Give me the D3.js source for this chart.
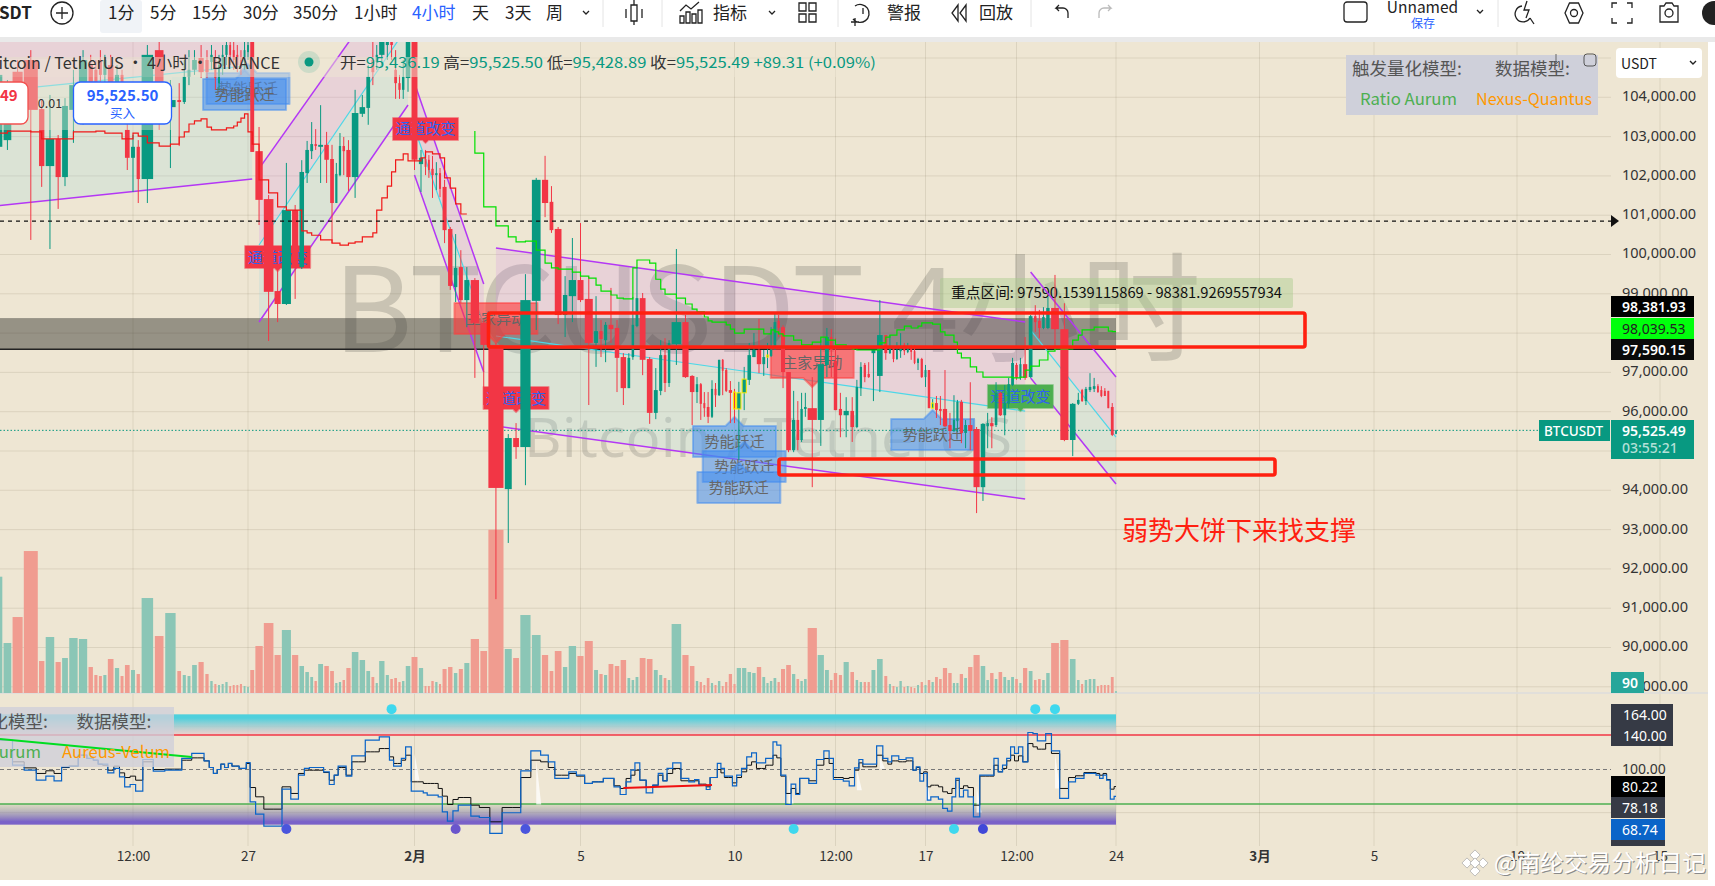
<!DOCTYPE html>
<html>
<head>
<meta charset="utf-8">
<style>
  html, body { margin: 0; padding: 0; background: #fff; overflow: hidden; }
  text { font-family: "Noto Sans CJK SC", "Noto Sans", sans-serif; }
</style>
<script src="https://cdn.jsdelivr.net/npm/d3@7"></script>
</head>
<body>
<svg id="chart" width="1715" height="886"></svg>
<script>
// BTCUSDT 4h bars. Bar widths follow volume.
var opens = [
  102740,102910,104650,104950,103700,102250,102940,101970,103680,104310,
  104820,104700,104950,104570,104820,104310,104570,103170,102460,102740,
  101920,105200,103750,103930,103880,104520,104700,105000,104950,104900,
  104950,104360,104800,105080,105330,105200,105080,104950,104900,105150,
  105410,102630,101410,99070,98740,101130,99680,102070,102630,102810,
  102740,102790,102430,101310,102020,102760,102660,101970,103580,103730,
  104950,104900,105080,105330,105510,104700,104360,104190,104490,105410,
  102300,102430,102410,102180,102020,102070,101720,100650,99170,99680,
  98840,99350,98260,97700,94030,95330,95100,98820,101900,101340,
  100650,98460,98940,99350,98870,97750,98050,97820,98210,98130,
  97390,96600,97390,98180,98890,97340,95970,96530,97440,96730,
  97720,98280,96910,96500,96700,96220,96120,95870,96580,96420,
  97320,97060,96550,96500,96070,96480,96810,97390,97570,97210,
  97390,97420,97640,98310,98150,97010,95020,95790,95280,96070,
  96090,95790,97190,97900,97290,96070,95910,96020,95610,96600,
  97190,96960,97490,96910,97950,97490,97620,97340,97540,97700,
  97520,97670,97540,97240,97340,96880,97060,96090,96220,96070,
  96070,95660,95510,95760,96250,95460,95660,95560,94080,95630,
  95710,95660,96480,95910,96200,96680,97190,96860,97210,96880,
  98430,98310,98130,98130,98640,98100,95280,96200,96550,96270,
  96550,96580,96650,96550,96530,96530,96120,95436.19
];
var closes = [
  104570,104190,104190,103680,102250,102940,101970,103780,104310,104950,
  104190,104310,104570,104950,104310,104570,104310,102460,102740,101920,
  105080,104360,103930,103880,104520,104700,104950,104640,104640,105080,
  104490,104820,105080,105330,105080,104950,104820,104750,105200,105330,
  102610,101390,99050,98740,101130,99680,102100,102660,102810,102760,
  102790,102410,101310,102050,102760,102630,101970,103600,103750,104520,
  104640,105080,105460,105510,105330,104360,104190,104520,105410,102410,
  102460,102230,102150,102020,102070,101670,100620,99200,99660,98840,
  99350,98260,97700,94060,95330,95100,98840,101900,101310,100620,
  98460,98970,99350,98840,97750,98050,97850,98210,98100,97370,
  96600,97370,98210,98890,97320,95970,96550,97440,96730,97750,
  98280,96880,96500,96700,96200,96090,95870,96580,96420,97320,
  97040,96530,96480,96070,96480,96830,97440,97570,97210,97390,
  97440,97570,98280,98130,97010,95020,95790,95280,96070,96120,
  95790,97210,97900,97570,96040,95910,96020,95610,96630,97140,
  96880,96880,97570,97950,97490,97620,97340,97570,97650,97540,
  97620,97520,97240,97340,96880,97060,96090,96220,96040,96020,
  95630,95510,95790,96250,95460,95660,95510,94080,95690,95710,
  95630,96480,95910,96220,96700,97240,96860,97210,96860,98430,
  98280,98130,98410,98640,98100,95280,96200,96300,96270,96580,
  96630,96650,96500,96400,96400,96090,95410,95525.49
];
var highs = [
  104950,104440,104950,105200,103930,104060,103040,103980,104700,105200,
  105080,104950,105200,105080,105080,104820,104700,103680,103040,102910,
  105330,105460,104440,104360,104950,105200,105200,105330,105200,105330,
  105200,105080,105330,105590,105590,105460,105330,105200,105460,105590,
  105460,103245,101515,99605,102330,101260,102400,102890,103370,103190,
  103800,103120,102790,102330,103090,102990,102910,104190,104060,104820,
  105460,105330,105710,105760,105710,105200,104570,104950,105590,105590,
  102660,102660,102530,102510,102350,102200,101900,100700,100520,100110,
  99680,99400,98310,97750,95430,95710,99500,101950,102510,101740,
  100700,99450,100420,100800,99430,98940,98330,98280,99150,98330,
  97490,97490,98920,99680,99020,97390,97110,97820,97870,97820,
  100140,98460,96930,96880,96730,96500,96500,96800,96730,97320,
  97340,97110,96780,96580,96760,97140,97750,98000,98360,97570,
  97750,98150,98510,98460,98200,97010,96530,96270,96480,96480,
  96880,97820,98130,98100,97870,96480,96370,96370,96810,97260,
  97240,97260,97570,98840,97950,97950,97650,97770,98000,97750,
  97750,97700,97700,97370,97370,97190,97060,96320,96400,96400,
  97060,95970,96420,96300,96300,95790,96750,95610,95710,95970,
  95860,96750,96500,96680,96860,97370,97240,97370,97900,98460,
  98710,98590,98660,98920,99480,98760,96220,96480,96580,96630,
  96980,96860,96700,96650,96600,96530,96220,95525.5
];
var lows = [
  101900,102660,103930,100370,101720,100140,101160,101740,102840,103300,
  103930,103930,104190,104310,103680,103680,104060,102150,101590,101310,
  101310,103170,102200,102760,103830,104310,104570,104490,104490,104700,
  104190,104190,104570,104820,104820,104700,104640,104570,104700,104950,
  102610,100750,97800,98280,98715,98870,99630,101820,102430,102660,
  101820,101820,100290,101310,101990,102020,101620,101440,103500,103300,
  104310,104700,104820,104950,104950,103960,103960,103960,104140,102150,
  101590,102020,101950,101440,101640,101460,100290,99100,98790,98760,
  98150,96860,96170,91230,92660,94800,94130,98080,100950,100550,
  98230,97900,98280,98790,96170,97140,97390,97260,97750,96500,
  96170,96600,97320,98150,96930,95690,95810,96420,96500,96630,
  97190,96860,95660,96220,95790,95870,95710,95840,96120,96400,
  96420,96500,95710,95710,94770,96040,96680,97390,96980,96910,
  97110,97390,97570,97900,96600,94970,94970,95020,95230,95870,
  94080,95130,96880,96880,96040,95350,95350,95230,95580,96400,
  96750,96860,96270,96500,97320,97470,97260,97320,97370,97440,
  97490,97320,97210,97060,96860,96630,96090,96090,95840,95660,
  95610,95070,95480,95480,95200,95070,95020,93420,93730,95070,
  95070,95610,95890,95400,96090,96650,96810,96810,96810,96860,
  98030,97870,98100,98100,97570,95250,94870,96170,96250,96170,
  96500,96500,96480,96370,96400,96090,95380,95428.89
];
var volumes = [
  349,150,228,426,96,168,93,105,165,162,
  78,54,51,54,102,75,51,84,69,57,
  285,171,240,66,54,51,84,93,57,36,
  27,24,27,33,21,24,24,27,21,18,
  69,141,210,114,189,114,81,63,48,36,
  87,81,66,30,33,39,75,123,99,66,
  48,30,96,54,42,45,33,36,81,108,
  75,21,21,36,33,27,72,78,60,72,
  90,162,126,490,132,105,234,174,114,66,
  126,78,141,111,156,69,57,54,87,81,
  99,45,39,48,105,102,69,54,45,39,
  207,114,81,36,33,24,45,30,24,36,
  21,33,57,27,75,75,63,60,78,48,
  30,36,45,33,72,84,57,42,36,42,
  195,114,69,39,60,54,93,63,39,33,
  33,33,69,102,51,27,21,18,36,18,
  21,18,15,24,33,24,39,33,48,42,
  75,60,30,30,57,45,78,114,81,39,
  60,42,63,48,39,48,42,30,75,66,
  39,42,39,60,150,159,102,39,27,39,
  42,42,21,24,24,24,48,6
];
// the stepped trend line over the candles, red until index 81 and green after
var trendLine = [
  102760,103090,103140,103140,103120,102940,102940,102940,102940,103120,
  103120,103120,103140,103140,103090,103090,103090,102940,102940,103090,
  103010,102840,102760,102810,102990,103120,103320,103400,103450,103240,
  103170,103170,103170,103170,103220,103220,103270,103370,103470,103580,
  103120,102810,101900,101570,101210,101130,101130,100600,100550,100490,
  100490,100370,100370,100290,100290,100240,100240,100290,100320,100450,
  100450,100550,101130,101440,101740,102100,102410,102410,102560,102380,
  102380,102460,102610,102610,102560,102560,102460,101950,101690,101290,
  101030,103140,102580,101210,100730,100450,100320,100340,100110,99780,
  99660,99630,99630,99550,99450,99400,99220,99070,99070,98970,
  98890,98870,98870,99660,99860,99860,99780,99370,99120,98990,
  98990,98890,98740,98610,98540,98540,98410,98310,98280,98280,
  98280,98280,98210,98100,98000,98000,98100,98100,98100,98100,
  97980,97980,98080,98030,97980,97930,97930,97820,97820,97700,
  97700,97770,97900,97820,97820,97700,97700,97650,97595,97570,
  97570,97570,97570,97570,97750,97900,97950,97950,98080,98080,
  98180,98180,98130,98130,98180,98260,98260,98260,98230,98230,
  98030,97950,97950,97770,97490,97370,97370,97140,97010,96880,
  96880,96880,96880,96880,96880,96880,96860,96860,96880,97060,
  97160,97160,97315,97315,97540,97595,97595,97820,97950,98080,
  98080,98080,98150,98150,98150,98150,98050,98039.53
];
var trendSplit = 81;

// oscillator in the lower pane
var oscBlue = [
  134,134,105,99.2,87.6,92.3,86.9,103.1,103.9,116.6,
  112.8,110.8,106.2,106.2,96.1,101.2,91.5,79.9,82.6,74.9,
  111.6,98.1,99.2,99.2,112.8,112.8,118.6,118.6,110,102.3,
  95.4,100,106.2,102.3,107,103.9,103.9,101.2,101.2,108.1,
  62.5,48.2,34.3,34.3,77.2,65.6,93.4,101.2,102.3,102.3,
  102.3,97.3,82.6,93.4,103.9,103.9,92.3,115.8,115.8,134,
  134,134,137.9,137.9,110.8,103.9,103.9,112.8,126.3,74.9,
  74.9,72.9,70.2,70.2,70.2,68.3,50.9,40.1,52.1,58.6,
  58.6,45.9,44.3,25.8,49.8,49.8,98.5,121.6,116.6,108.9,
  89.6,89.6,97.3,93.4,83.8,85.7,85.7,89.6,89.6,79.9,
  71,85.7,99.2,107.7,87.6,72.9,81.8,95.4,86.9,101.2,
  107.7,89.6,85.7,88.4,81.8,81.8,76.8,90.7,90.7,107,
  101.2,92.3,92.3,81.1,93.4,101.2,114.7,119.3,107.7,107.7,
  112.8,112.8,132.1,128.2,93.4,59.4,83,71,89.6,89.6,
  83.8,111.6,121.6,112.8,88.4,88.4,86.5,81.1,101.9,111.6,
  106.2,106.2,106.2,127.4,112.8,108.9,115.8,115.8,111.6,111.6,
  113.5,113.5,99.2,103.1,86.5,95.4,64.4,68.3,68.3,65.6,
  54.8,51.7,68.3,89.6,68.3,76,68.3,45.1,93.4,93.4,
  93.4,112.8,97.3,105,112.8,126.3,118.6,126.3,108.9,142.9,
  141.7,133.2,133.2,141.7,121.6,66.4,85.7,89.6,89.6,95.4,
  95.4,95.4,93.4,89.6,93.4,87.6,65.6,68.74
];
var oscBlack = [
  134,134,108.9,101.9,95.4,98.5,95.4,102.3,103.9,116.6,
  112.8,110.8,106.2,105,99.2,103.9,96.1,90.7,92.3,87.6,
  108.9,100,100.4,100.4,110.8,110.8,113.5,113.5,110,102.3,
  95.4,100,106.2,102.3,107,103.9,103.9,101.2,101.2,107,
  79.1,68.3,54,54,79.9,72.2,95.4,99.2,99.2,99.2,
  99.2,96.5,87.6,93.4,102.3,102.3,93.4,108.9,108.9,120.5,
  120.5,120.5,124.3,124.3,114.7,107,107,110.8,116.6,85.7,
  85.7,83.8,83.8,83.8,83.8,78,69.1,59.4,65.2,67.5,
  67.5,58.6,55.9,39.3,55.9,55.9,90.7,110.8,108.9,102.3,
  93.4,93.4,95.4,92.3,83.8,85.7,85.7,89.6,89.6,81.1,
  78,89.6,93.4,99.2,87.6,79.1,81.8,93.4,86.9,95.4,
  101.2,86.9,86.9,86.9,83,83,79.9,90.7,90.7,100,
  96.1,90.7,90.7,84.5,90.7,97.3,105,108.9,101.2,101.2,
  105,105,116.6,113.5,92.3,72.2,78,72.2,89.6,89.6,
  86.9,105,112.8,107,90.7,90.7,89.6,90.7,99.2,107.7,
  103.1,103.1,103.1,116.6,110,106.2,110,110,108.9,108.9,
  110,110,99.2,102.3,95.4,97.3,79.9,81.8,81.8,79.9,
  74.1,72.2,78,87.6,78,81.1,79.1,58.6,92.3,92.3,
  92.3,105,97.3,101.2,110,116.6,110,115.8,108.9,130.1,
  126.3,123.6,123.6,130.1,118.6,78,90.7,92.7,92.7,96.5,
  96.5,96.5,95.4,93.4,95.4,88.4,77.2,80.22
];
// pale spikes behind the oscillator: [bar, top value, bottom value]
var oscFlares = [[69,118.5,87.6],[87,110.8,59.4],[194,118.5,78],[135,93.4,60.6],[165,95.4,64.4],[177,81.1,50],[148,101.2,76],[153,115,101]];

var priceTicks = [104000,103000,102000,101000,100000,99000,97000,96000,94000,93000,92000,91000,90000,89000];
var priceGrid = [105000,104000,103000,102000,101000,100000,99000,98000,97000,96000,95000,94000,93000,92000,91000,90000,89000];
var timeLabels = ["12:00","27","2月","5","10","12:00","17","12:00","24","3月","5","10","15"];
var timeBars = [18,39,69,93,123,144,165,186,207,237,261,291,321];
var timeBold = ["2月","3月"];
var yellowBars = [123,124,125,130,167];

var zoneLow = 97590.15, zoneHigh = 98381.93, alertPrice = 100850, lastPrice = 95525.49;
var boxHigh = {hi: 98510, lo: 97645};
var boxLow = {hi: 94795, lo: 94388};

// upper / mid / lower edges of each channel: [from bar, to bar, price at from, price at to]
var channels = [
  {from: 0,   to: 40,  up: [105968,105968], mid: [104160,104813], low: [101234,101921]},
  {from: 41,  to: 68,  up: [102186,107533], mid: [100242,105815], low: [98282,103805]},
  {from: 69,  to: 82,  up: [104365,99250],  mid: [103207,98219],  low: [102023,97010]},
  {from: 83,  to: 188, up: [100165,98282],  mid: [97926,96017],   low: [95635,93778]},
  {from: 189, to: 207, up: [99555,96882],   mid: [98078,95355],   low: [96857,94159]}
];
var tags = [
  {text: "通道改变", bar: 43,  price: 99580,  kind: "shift"},
  {text: "通道改变", bar: 71,  price: 102840, kind: "shift"},
  {text: "通道改变", bar: 85,  price: 95990,  kind: "shift"},
  {text: "通道改变", bar: 187, price: 96015,  kind: "shiftUp"},
  {text: "主家异动", bar: 83,  price: 97748,  kind: "whale"},
  {text: "主家异动", bar: 140, price: 96628,  kind: "whale"},
  {text: "势能跃迁", bar: 39,  price: 104848, kind: "jump"},
  {text: "势能跃迁", bar: 38,  price: 104696, kind: "jump"},
  {text: "势能跃迁", bar: 123, price: 95864,  kind: "jump"},
  {text: "势能跃迁", bar: 125, price: 95228,  kind: "jump"},
  {text: "势能跃迁", bar: 124, price: 94694,  kind: "jump"},
  {text: "势能跃迁", bar: 167, price: 96042,  kind: "jump"}
];
var dotsTop = [64,190,194];
var dotsBottom = [{bar: 44, c: "#4a55dd"}, {bar: 78, c: "#6a55cc"}, {bar: 86, c: "#4a55dd"},
                  {bar: 136, c: "#3fd8ee"}, {bar: 172, c: "#3fd8ee"}, {bar: 178, c: "#4048d8"}];

var red = "#f23645", teal = "#089981", bg = "#eee6d3";
var paneRight = 1611, paneTop = 42, mainBottom = 693, subBottom = 846, chartBottom = 880;
var tickPx = [-4,133,248,414.5,580.5,734.5,835.5,925.5,1016.5,1116,1259.5,1374,1517,1660];

var svg = d3.select("#chart");
var defs = svg.append("defs");
defs.append("clipPath").attr("id", "clipMain").append("rect")
    .attr("x", 0).attr("y", paneTop).attr("width", paneRight).attr("height", mainBottom - paneTop);
defs.append("clipPath").attr("id", "clipSub").append("rect")
    .attr("x", 0).attr("y", mainBottom).attr("width", paneRight).attr("height", subBottom - mainBottom);

var gradTop = defs.append("linearGradient").attr("id", "gradTop").attr("x1", 0).attr("x2", 0).attr("y1", 0).attr("y2", 1);
gradTop.append("stop").attr("offset", "0.18").attr("stop-color", "#4fd0dc");
gradTop.append("stop").attr("offset", "1").attr("stop-color", "#f0c8c8").attr("stop-opacity", 0.7);
var gradLow = defs.append("linearGradient").attr("id", "gradLow").attr("x1", 0).attr("x2", 0).attr("y1", 0).attr("y2", 1);
gradLow.append("stop").attr("offset", "0").attr("stop-color", "#9aa890").attr("stop-opacity", 0.2);
gradLow.append("stop").attr("offset", "0.85").attr("stop-color", "#7a62c8");

// volume weighted time axis: width of a bar comes from its volume
var bodyWidth = d3.scaleLinear().domain([6,20,50,105,170,285,490]).range([1.6,1.8,2.9,5.8,8.6,11.5,15.1]).clamp(true);
var barPos = [], run = 0;
for (var i = 0; i < 340; i++) {
  var slot = i < volumes.length ? bodyWidth(volumes[i]) + 1.6 : 5;
  barPos.push(run + slot / 2);
  run += slot;
}
var knots = [0].concat(timeBars).map(b => barPos[b]);
var x = d3.scaleLinear().domain(knots).range(tickPx);
var xBar = b => {
  var lo = Math.floor(b), hi = Math.ceil(b);
  return x(barPos[lo] + (barPos[hi] - barPos[lo]) * (b - lo));
};

var y = d3.scaleLinear().domain([89000,105000]).range([686.8,58]);
var yVol = d3.scaleLinear().domain([0,490]).range([mainBottom, mainBottom - 163.3]);
var yOsc = d3.scaleLinear().domain([50,150]).range([812.6,726.4]);

// background
svg.append("rect").attr("width", 1715).attr("height", 886).attr("fill", "#fff");
svg.append("rect").attr("y", 37).attr("width", 1715).attr("height", 5).attr("fill", "#e9e9e9");
svg.append("rect").attr("y", paneTop).attr("width", 1708).attr("height", chartBottom - paneTop).attr("fill", bg);

// grid
var grid = svg.append("g").attr("stroke", "#7d7158").attr("stroke-opacity", 0.16);
grid.selectAll(".h").data(priceGrid).join("line")
    .attr("x1", 0).attr("x2", paneRight).attr("y1", d => y(d)).attr("y2", d => y(d));
grid.selectAll(".o").data([150,50]).join("line")
    .attr("x1", 0).attr("x2", paneRight).attr("y1", d => yOsc(d)).attr("y2", d => yOsc(d));
grid.selectAll(".v").data(timeBars).join("line")
    .attr("x1", d => xBar(d)).attr("x2", d => xBar(d)).attr("y1", paneTop).attr("y2", subBottom);
svg.append("line").attr("x1", 0).attr("x2", 1708).attr("y1", mainBottom).attr("y2", mainBottom)
    .attr("stroke", "#ddd").attr("stroke-width", 1.5);

// big watermark
svg.append("text").attr("x", 767).attr("y", 352).attr("text-anchor", "middle")
    .attr("font-size", 118).attr("fill", "#5d5a55").attr("fill-opacity", 0.25)
    .attr("textLength", 868).attr("lengthAdjust", "spacingAndGlyphs")
    .style("font-family", "'Noto Sans CJK SC'").text("BTCUSDT 4小时");
svg.append("text").attr("x", 768).attr("y", 457).attr("text-anchor", "middle")
    .attr("font-size", 54).attr("fill", "#5d5a55").attr("fill-opacity", 0.22)
    .attr("textLength", 488).attr("lengthAdjust", "spacingAndGlyphs")
    .style("font-family", "'Noto Sans'").text("Bitcoin / TetherUS");

var main = svg.append("g").attr("clip-path", "url(#clipMain)");

// channel fills and edges
function edge(c, key) {
  return [[xBar(c.from), y(c[key][0])], [xBar(c.to), y(c[key][1])]];
}
function band(c, a, b) {
  var ea = edge(c, a), eb = edge(c, b);
  return [ea[0], ea[1], eb[1], eb[0]];
}
main.selectAll(".pink").data(channels).join("polygon")
    .attr("points", d => band(d, "up", "mid").join(" "))
    .attr("fill", "#d082ec").attr("fill-opacity", 0.2);
main.selectAll(".green").data(channels).join("polygon")
    .attr("points", d => band(d, "mid", "low").join(" "))
    .attr("fill", "#8fd7e2").attr("fill-opacity", 0.2);

// focus zone
main.append("rect").attr("x", 0).attr("width", xBar(207))
    .attr("y", y(zoneHigh)).attr("height", y(zoneLow) - y(zoneHigh))
    .attr("fill", "#32322d").attr("fill-opacity", 0.47);
main.append("line").attr("x1", 0).attr("x2", xBar(207)).attr("y1", y(zoneLow)).attr("y2", y(zoneLow))
    .attr("stroke", "#222").attr("stroke-width", 1.4);

// zone caption
main.append("rect").attr("x", 940).attr("y", 278).attr("width", 353).attr("height", 30).attr("rx", 2)
    .attr("fill", "#a8cc8c").attr("fill-opacity", 0.45);
main.append("text").attr("x", 951).attr("y", 298).attr("font-size", 14.5).attr("fill", "#111")
    .attr("textLength", 331).attr("lengthAdjust", "spacingAndGlyphs")
    .text("重点区间: " + "97590.1539115869 - 98381.9269557934");

// channel lines
channels.forEach(c => {
  ["up","low"].forEach(k => {
    var e = edge(c, k);
    main.append("line").attr("x1", e[0][0]).attr("y1", e[0][1]).attr("x2", e[1][0]).attr("y2", e[1][1])
        .attr("stroke", "#b437f5").attr("stroke-width", 1.5);
  });
  var m = edge(c, "mid");
  main.append("line").attr("x1", m[0][0]).attr("y1", m[0][1]).attr("x2", m[1][0]).attr("y2", m[1][1])
      .attr("stroke", "#4dd8e8").attr("stroke-width", 1.2);
});

// signal tags
var tagStyle = {
  shift:   {w: 65, h: 22, gap: 3, down: true,  fill: "#f23645", ink: "#2f62f0", size: 15, op: 1},
  shiftUp: {w: 65, h: 23, gap: 3, down: true,  fill: "#4caf50", ink: "#2f62f0", size: 15, op: 1},
  whale:   {w: 83, h: 31, gap: 9, down: true,  fill: "#ff3c3c", ink: "#666",    size: 15, op: 0.62},
  jump:    {w: 83, h: 31, gap: 9, down: false, fill: "#428cf0", ink: "#666",    size: 15, op: 0.55}
};
var tagG = main.selectAll(".tag").data(tags).join("g")
    .attr("transform", d => "translate(" + xBar(d.bar) + "," + y(d.price) + ")");
tagG.append("path")
    .attr("d", d => {
      var s = tagStyle[d.kind], w = s.w / 2, g = s.gap, h = s.h;
      return s.down
        ? "M" + -w + "," + (-g - h) + "H" + w + "V" + -g + "H" + g + "L0,0L" + -g + "," + -g + "H" + -w + "Z"
        : "M" + -w + "," + (g + h) + "H" + w + "V" + g + "H" + g + "L0,0L" + -g + "," + g + "H" + -w + "Z";
    })
    .attr("fill", d => tagStyle[d.kind].fill)
    .attr("fill-opacity", d => tagStyle[d.kind].op)
    .attr("stroke", d => tagStyle[d.kind].fill).attr("stroke-opacity", 0.5)
    .attr("stroke-linejoin", "round").attr("stroke-width", 2);
tagG.append("text").attr("text-anchor", "middle")
    .attr("y", d => { var s = tagStyle[d.kind]; return (s.down ? -s.gap - s.h / 2 : s.gap + s.h / 2) + 5.5; })
    .attr("font-size", d => tagStyle[d.kind].size)
    .attr("fill", d => tagStyle[d.kind].ink)
    .text(d => d.text);

// volume
main.selectAll(".vol").data(volumes).join("rect")
    .attr("x", (d, i) => xBar(i) - bodyWidth(d) / 2)
    .attr("width", d => bodyWidth(d))
    .attr("y", d => yVol(d))
    .attr("height", d => yVol(0) - yVol(d))
    .attr("fill", (d, i) => closes[i] >= opens[i] ? "#8bc6b6" : "#f09c90");

// lines at the last price and the alert price
main.append("line").attr("x1", 0).attr("x2", 1540).attr("y1", y(lastPrice)).attr("y2", y(lastPrice))
    .attr("stroke", teal).attr("stroke-width", 1).attr("stroke-dasharray", "1.5 2");
svg.append("line").attr("x1", 0).attr("x2", paneRight).attr("y1", y(alertPrice)).attr("y2", y(alertPrice))
    .attr("stroke", "#111").attr("stroke-width", 1.2).attr("stroke-dasharray", "4 4");
svg.append("path").attr("d", "M1611," + (y(alertPrice) - 6) + "l8,6l-8,6Z").attr("fill", "#111");

// candles
var candle = main.selectAll(".bar").data(opens).join("g")
    .attr("fill", (d, i) => closes[i] >= d ? teal : red)
    .attr("stroke", (d, i) => closes[i] >= d ? teal : red);
candle.append("line")
    .attr("x1", (d, i) => xBar(i)).attr("x2", (d, i) => xBar(i))
    .attr("y1", (d, i) => y(highs[i])).attr("y2", (d, i) => y(lows[i]));
candle.append("rect")
    .attr("x", (d, i) => xBar(i) - bodyWidth(volumes[i]) / 2)
    .attr("width", (d, i) => bodyWidth(volumes[i]))
    .attr("y", (d, i) => y(Math.max(d, closes[i])))
    .attr("height", (d, i) => Math.max(1, Math.abs(y(d) - y(closes[i]))))
    .attr("stroke", (d, i) => yellowBars.includes(i) ? "#ffee00" : "none")
    .attr("stroke-width", 1);

// trend step line
var trendPath = d3.line().x(d => xBar(d.i)).y(d => y(d.v)).curve(d3.curveStepBefore);
var trendPts = trendLine.map((v, i) => ({i: i, v: v}));
main.append("path").attr("d", trendPath(trendPts.slice(0, trendSplit))).attr("fill", "none")
    .attr("stroke", "#f01818").attr("stroke-width", 1.2);
main.append("path").attr("d", trendPath(trendPts.slice(trendSplit))).attr("fill", "none")
    .attr("stroke", "#00e000").attr("stroke-width", 1.2);

// hand-drawn boxes
main.append("rect").attr("x", 488.5).attr("width", 816.5)
    .attr("y", y(boxHigh.hi)).attr("height", y(boxHigh.lo) - y(boxHigh.hi)).attr("rx", 2)
    .attr("fill", "none").attr("stroke", "#ff2010").attr("stroke-width", 3.6);
main.append("rect").attr("x", 779).attr("width", 496)
    .attr("y", y(boxLow.hi)).attr("height", y(boxLow.lo) - y(boxLow.hi)).attr("rx", 2)
    .attr("fill", "none").attr("stroke", "#ff2010").attr("stroke-width", 3.6);
main.append("text").attr("x", 1122).attr("y", 540).attr("font-size", 26).attr("fill", "#ff2010")
    .text("弱势大饼下来找支撑");

// the legend bar and the order buttons dim what is under them
svg.append("rect").attr("x", 0).attr("y", 57).attr("width", 880).attr("height", 20).attr("fill", bg).attr("fill-opacity", 0.5);
svg.append("rect").attr("x", 0).attr("y", 77).attr("width", 172).attr("height", 53).attr("fill", bg).attr("fill-opacity", 0.4);

// legend row
svg.append("text").attr("x", 280).attr("y", 68.5).attr("text-anchor", "end").attr("font-size", 16.5).attr("fill", "#333")
    .attr("textLength", 292).attr("lengthAdjust", "spacingAndGlyphs")
    .text("Bitcoin / TetherUS · 4小时 · BINANCE");
svg.append("circle").attr("cx", 309).attr("cy", 62).attr("r", 11).attr("fill", teal).attr("fill-opacity", 0.14);
svg.append("circle").attr("cx", 309).attr("cy", 62).attr("r", 4.5).attr("fill", teal);
var ohlc = svg.append("text").attr("x", 340).attr("y", 68).attr("font-size", 14.5).attr("fill", teal)
    .attr("textLength", 536).attr("lengthAdjust", "spacingAndGlyphs");
[["开=", "#333"], ["95,436.19 ", teal], ["高=", "#333"], ["95,525.50 ", teal], ["低=", "#333"], ["95,428.89 ", teal],
 ["收=", "#333"], ["95,525.49 ", teal], ["+89.31 (+0.09%)", teal]].forEach(p => {
  ohlc.append("tspan").attr("fill", p[1]).text(p[0]);
});

// order buttons
svg.append("rect").attr("x", -12).attr("y", 82).attr("width", 40).attr("height", 42).attr("rx", 7)
    .attr("fill", "#fff").attr("stroke", "#f2504f").attr("stroke-width", 1.3);
svg.append("text").attr("x", 0).attr("y", 101).attr("font-size", 15).attr("font-weight", 700).attr("fill", "#f23645").text("49");
svg.append("text").attr("x", 50).attr("y", 108).attr("text-anchor", "middle").attr("font-size", 12.5).attr("fill", "#333").text("0.01");
svg.append("rect").attr("x", 73.5).attr("y", 82).attr("width", 98).attr("height", 42).attr("rx", 7)
    .attr("fill", "#fff").attr("stroke", "#2962ff").attr("stroke-width", 1.3);
svg.append("text").attr("x", 122.5).attr("y", 101).attr("text-anchor", "middle").attr("font-size", 15).attr("font-weight", 700)
    .attr("fill", "#2962ff").text("95,525.50");
svg.append("text").attr("x", 122.5).attr("y", 118).attr("text-anchor", "middle").attr("font-size", 12.5).attr("fill", "#2962ff").text("买入");

// top right model panel
svg.append("rect").attr("x", 1346).attr("y", 55).attr("width", 252).attr("height", 60).attr("fill", "#cfd0da");
svg.append("text").attr("x", 1352).attr("y", 75).attr("font-size", 17.5).attr("fill", "#555").text("触发量化模型:");
svg.append("text").attr("x", 1495).attr("y", 75).attr("font-size", 17.5).attr("fill", "#555").text("数据模型:");
svg.append("text").attr("x", 1360).attr("y", 105).attr("font-size", 16.5).attr("fill", "#4caf50")
    .attr("textLength", 97).attr("lengthAdjust", "spacingAndGlyphs").text("Ratio Aurum");
svg.append("text").attr("x", 1476).attr("y", 105).attr("font-size", 16.5).attr("fill", "#ff9800")
    .attr("textLength", 116).attr("lengthAdjust", "spacingAndGlyphs").text("Nexus-Quantus");
svg.append("path").attr("d", "M1556,54v10M1553,61l3,3l3,-3").attr("fill", "none").attr("stroke", "#666");
svg.append("rect").attr("x", 1584).attr("y", 54).attr("width", 12).attr("height", 12).attr("rx", 3)
    .attr("fill", "none").attr("stroke", "#555");

// currency select
svg.append("rect").attr("x", 1616).attr("y", 48).attr("width", 86).attr("height", 30).attr("rx", 4).attr("fill", "#fff");
svg.append("text").attr("x", 1621).attr("y", 69).attr("font-size", 14).attr("fill", "#222").text("USDT");
svg.append("path").attr("d", "M1690,61l3,3l3,-3").attr("fill", "none").attr("stroke", "#222").attr("stroke-width", 1.4);

// price axis
var axisG = svg.append("g").attr("transform", "translate(1622,-1)")
    .call(d3.axisRight(y).tickValues(priceTicks).tickSize(0).tickPadding(0).tickFormat(d3.format(",.2f")));
axisG.select(".domain").remove();
axisG.selectAll("text").attr("font-size", 14).attr("fill", "#333")
    .attr("textLength", d => d >= 100000 ? 74 : 66).attr("lengthAdjust", "spacingAndGlyphs")
    .style("font-family", "'Noto Sans'");

// tags on the price axis
function axisTag(x0, x1, y0, y1, fill, lines) {
  svg.append("rect").attr("x", x0).attr("y", y0).attr("width", x1 - x0).attr("height", y1 - y0).attr("fill", fill);
  lines.forEach(l => {
    svg.append("text").attr("x", x0 + (l.dx || 11)).attr("y", l.y).attr("font-size", l.size || 14).attr("font-weight", l.w || 400)
        .attr("fill", l.c).style("font-family", "'Noto Sans'").text(l.t);
  });
}
axisTag(1611, 1694, 296, 317, "#000", [{t: "98,381.93", y: 311.5, c: "#fff", w: 600}]);
axisTag(1611, 1694, 318, 339, "#00ff0c", [{t: "98,039.53", y: 333.5, c: "#222"}]);
axisTag(1611, 1694, 339, 360, "#0a0a0a", [{t: "97,590.15", y: 354.5, c: "#fff", w: 600}]);
axisTag(1539, 1610, 420, 441, teal, [{t: "BTCUSDT", y: 435.5, c: "#fff", dx: 5, size: 13.5, w: 500}]);
axisTag(1611, 1694, 420, 459, teal, [{t: "95,525.49", y: 435.5, c: "#fff", w: 600},
                                    {t: "03:55:21", y: 453, c: "#b4e0d8", w: 500}]);
axisTag(1611, 1644, 672, 693, "#26a69a", [{t: "90", y: 687.5, c: "#fff", w: 600, dx: 11}]);

// lower pane
var sub = svg.append("g").attr("clip-path", "url(#clipSub)");
sub.append("rect").attr("x", 0).attr("width", xBar(207)).attr("y", yOsc(164)).attr("height", yOsc(140) - yOsc(164)).attr("fill", "url(#gradTop)");
sub.append("rect").attr("x", 0).attr("width", xBar(207)).attr("y", yOsc(60)).attr("height", yOsc(36) - yOsc(60)).attr("fill", "url(#gradLow)");
sub.append("line").attr("x1", 0).attr("x2", paneRight).attr("y1", yOsc(140)).attr("y2", yOsc(140)).attr("stroke", "#f23645").attr("stroke-width", 1.5);
sub.append("line").attr("x1", 0).attr("x2", paneRight).attr("y1", yOsc(60)).attr("y2", yOsc(60)).attr("stroke", "#4caf50").attr("stroke-width", 1.5);
sub.append("line").attr("x1", 0).attr("x2", paneRight).attr("y1", yOsc(100)).attr("y2", yOsc(100))
    .attr("stroke", "#787878").attr("stroke-dasharray", "4 3");

sub.selectAll(".flare").data(oscFlares).join("polygon")
    .attr("points", d => [[xBar(d[0]), yOsc(d[1])], [xBar(d[0]) + 5, yOsc(d[2])], [xBar(d[0]), yOsc(d[2])]].join(" "))
    .attr("fill", "#fff").attr("fill-opacity", 0.75);

var oscLine = d3.line().x((d, i) => xBar(i)).y(d => yOsc(d)).curve(d3.curveStep);
sub.append("path").attr("d", oscLine(oscBlack)).attr("fill", "none").attr("stroke", "#111").attr("stroke-width", 1);
sub.append("path").attr("d", oscLine(oscBlue)).attr("fill", "none").attr("stroke", "#0a64c8").attr("stroke-width", 1.2);

sub.selectAll(".dt").data(dotsTop).join("circle")
    .attr("cx", d => xBar(d)).attr("cy", yOsc(170)).attr("r", 5).attr("fill", "#3fd8ee");
sub.selectAll(".db").data(dotsBottom).join("circle")
    .attr("cx", d => xBar(d.bar)).attr("cy", yOsc(31)).attr("r", 5).attr("fill", d => d.c);
sub.append("line").attr("x1", xBar(100)).attr("y1", 788).attr("x2", xBar(117)).attr("y2", 785).attr("stroke", "#f01010").attr("stroke-width", 2);

// lower pane panel
svg.append("rect").attr("x", 0).attr("y", 707).attr("width", 174).attr("height", 60).attr("fill", "#cfd0da").attr("fill-opacity", 0.8);
svg.append("line").attr("x1", 0).attr("y1", 739).attr("x2", xBar(25.5)).attr("y2", 757).attr("stroke", "#00dd22").attr("stroke-width", 2);
svg.append("text").attr("x", 48).attr("y", 728).attr("text-anchor", "end").attr("font-size", 17.5).attr("fill", "#555").text("触发量化模型:");
svg.append("text").attr("x", 76.5).attr("y", 728).attr("font-size", 17.5).attr("fill", "#555").text("数据模型:");
svg.append("text").attr("x", 41).attr("y", 758).attr("text-anchor", "end").attr("font-size", 16.5).attr("fill", "#4caf50")
    .attr("textLength", 97).attr("lengthAdjust", "spacingAndGlyphs").text("Ratio Aurum");
svg.append("text").attr("x", 62).attr("y", 758).attr("font-size", 16.5).attr("fill", "#ff9800")
    .attr("textLength", 108).attr("lengthAdjust", "spacingAndGlyphs").text("Aureus-Velum");

// lower pane tags
axisTag(1611, 1673, 704, 725, "#363a45", [{t: "164.00", y: 720, c: "#fff", dx: 12}]);
axisTag(1611, 1673, 725, 746, "#363a45", [{t: "140.00", y: 741, c: "#fff", dx: 12}]);
svg.append("text").attr("x", 1622).attr("y", 774).attr("font-size", 14).attr("fill", "#333").style("font-family", "'Noto Sans'").text("100.00");
axisTag(1611, 1665, 776, 797, "#000", [{t: "80.22", y: 792, c: "#fff", dx: 11}]);
axisTag(1611, 1665, 797, 818, "#363a45", [{t: "78.18", y: 813, c: "#fff", dx: 11}]);
axisTag(1611, 1665, 819, 840, "#0a64c8", [{t: "68.74", y: 835, c: "#fff", dx: 11}]);
axisTag(1611, 1665, 840, 846, "#363a45", []);

// time axis
var timeAxis = d3.axisBottom(x).tickValues(timeBars.map(b => barPos[b])).tickSize(0).tickPadding(0)
    .tickFormat((d, i) => timeLabels[i]);
var timeG = svg.append("g").attr("transform", "translate(0,849)").call(timeAxis);
timeG.select(".domain").remove();
timeG.selectAll("text").attr("font-size", 13.5).attr("fill", "#333").attr("dy", "0.9em")
    .attr("font-weight", (d, i) => timeBold.includes(timeLabels[i]) ? 700 : 400);

// toolbar
var tb = svg.append("g").attr("font-size", 17).attr("fill", "#222");
tb.append("rect").attr("x", 100).attr("y", 0).attr("width", 42).attr("height", 33).attr("rx", 3).attr("fill", "#f0f3f7");
[["SDT",-1,700],["1分",108],["5分",150],["15分",192],["30分",243],["350分",293],["1小时",354],["4小时",412,400,"#2962ff"],
 ["天",472],["3天",505],["周",546],["指标",713],["警报",887],["回放",979]].forEach(d => {
  tb.append("text").attr("x", d[1]).attr("y", 19).attr("font-weight", d[2] || 400)
    .attr("fill", d[3] || "#222").text(d[0]);
});
[603,662,838,1031,1498].forEach(px => {
  tb.append("line").attr("x1", px).attr("x2", px).attr("y1", 0).attr("y2", 27).attr("stroke", "#e4e4e4");
});
function icon(d, color) {
  tb.append("path").attr("d", d).attr("fill", "none").attr("stroke", color || "#222").attr("stroke-width", 1.3);
}
tb.append("circle").attr("cx", 62).attr("cy", 13).attr("r", 11).attr("fill", "none").attr("stroke", "#222").attr("stroke-width", 1.3);
icon("M56,13h12M62,7v12");
icon("M583,11l3,3l3,-3");
icon("M769,11l3,3l3,-3");
icon("M1477,10l3,3l3,-3");
icon("M631,5h6v16h-6ZM634,0v5M634,21v4M626,9v9M642,9v9");
icon("M680,23v-7h4v7ZM686,23v-11h4v11ZM692,23v-9h4v9ZM698,23v-13h4v13ZM680,11l6,-6l5,4l8,-7");
icon("M799,3h7v8h-7ZM809,3h7v8h-7ZM799,14h7v8h-7ZM809,14h7v8h-7Z");
icon("M855,6a9,9 0 1,1 -2,13M851,22h8M855,18v8M863,8v6");
icon("M958,5l-6,8l6,8ZM966,5l-6,8l6,8Z");
icon("M1063,8h-7l3,-3M1056,8l3,3M1056,8h7a5,5 0 0,1 5,5v5");
icon("M1104,8h7l-3,-3M1111,8l-3,3M1111,8h-7a5,5 0 0,0 -5,5v5", "#bbb");
icon("M1347,2h17a3,3 0 0,1 3,3v14a3,3 0 0,1 -3,3h-17a3,3 0 0,1 -3,-3v-14a3,3 0 0,1 3,-3Z");
icon("M1522,6a8,8 0 1,0 8,12M1527,1l-3,9h5l-3,8M1530,18l4,6");
icon("M1565,13l4.5,-10h9l4.5,10l-4.5,10h-9Z");
tb.append("circle").attr("cx", 1574).attr("cy", 13).attr("r", 3.5).attr("fill", "none").attr("stroke", "#222").attr("stroke-width", 1.3);
icon("M1612,8v-5h5M1627,3h5v5M1632,18v5h-5M1617,23h-5v-5");
icon("M1660,6h4l2,-3h6l2,3h4v16h-18Z");
tb.append("circle").attr("cx", 1669).attr("cy", 13).attr("r", 4).attr("fill", "none").attr("stroke", "#222").attr("stroke-width", 1.3);
tb.append("circle").attr("cx", 1714).attr("cy", 13).attr("r", 12).attr("fill", "#222");
tb.append("text").attr("x", 1422.5).attr("y", 13).attr("text-anchor", "middle").attr("font-size", 15.5).text("Unnamed");
tb.append("text").attr("x", 1423).attr("y", 28).attr("text-anchor", "middle").attr("font-size", 12).attr("fill", "#2962ff").text("保存");

// site stamp in the corner
var stamp = svg.append("g");
function stampText(dx, dy, c) {
  stamp.append("text").attr("x", 1494 + dx).attr("y", 871 + dy).attr("font-size", 23).attr("fill", c)
      .attr("textLength", 212).attr("lengthAdjust", "spacingAndGlyphs").text("@南纶交易分析日记");
}
stampText(1, 1, "#8a8a8a");
stampText(0, 0, "#fff");
[[0,-8],[8,0],[0,8],[-8,0],[0,0]].forEach(o => {
  stamp.append("rect").attr("x", 1475 + o[0] - 3.6).attr("y", 863 + o[1] - 3.6).attr("width", 7.2).attr("height", 7.2)
      .attr("transform", "rotate(45 " + (1475 + o[0]) + " " + (863 + o[1]) + ")")
      .attr("fill", "#fff").attr("stroke", "#aaa").attr("stroke-width", 0.7);
});
</script>
</body>
</html>
